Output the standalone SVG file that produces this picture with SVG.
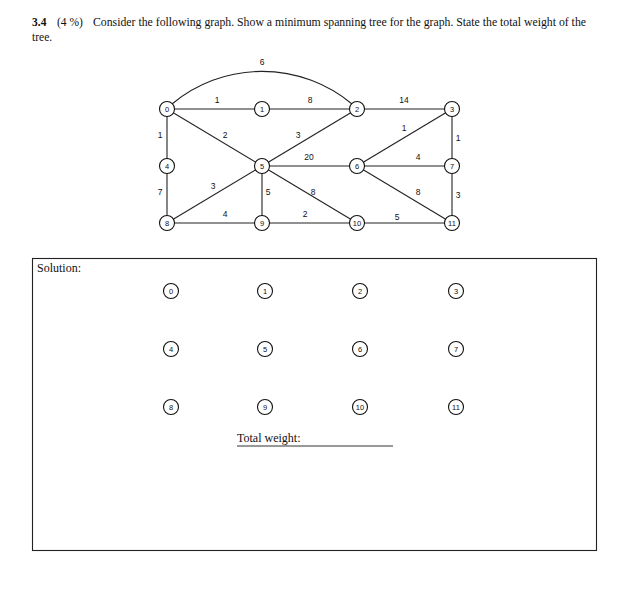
<svg xmlns="http://www.w3.org/2000/svg" width="629" height="591" viewBox="0 0 629 591">
<style>
.hdr{font-family:"Liberation Serif",serif;font-size:11.5px;fill:#111}
.big{font-size:12px}
.nd circle{fill:#fff;stroke:#111;stroke-width:1.1}
.nd text{font-family:"Liberation Sans",Arial,sans-serif;font-size:7.5px;fill:#111;text-anchor:middle}
.edges line,.edges path{stroke:#222;stroke-width:1.1;fill:none}
.wl{font-family:"Liberation Sans",Arial,sans-serif;font-size:8.5px;fill:#111;text-anchor:middle}
</style>
<rect width="629" height="591" fill="#fff"/>
<text class="hdr" x="32" y="26"><tspan font-weight="bold">3.4</tspan></text>
<text class="hdr" x="57" y="26">(4 %)</text>
<text class="hdr" x="93" y="26" textLength="493" lengthAdjust="spacingAndGlyphs">Consider the following graph. Show a minimum spanning tree for the graph. State the total weight of the</text>
<text class="hdr" x="32" y="41">tree.</text>

<g class="edges" id="connectors">
<path d="M172,104 A140.5,140.5 0 0 1 352,104"/>
<line x1="167" y1="109" x2="262" y2="109"/>
<line x1="262" y1="109" x2="357" y2="109"/>
<line x1="357" y1="109" x2="452" y2="109"/>
<line x1="167" y1="109" x2="167" y2="166"/>
<line x1="167" y1="166" x2="167" y2="223"/>
<line x1="167" y1="109" x2="262" y2="166"/>
<line x1="357" y1="109" x2="262" y2="166"/>
<line x1="452" y1="109" x2="357" y2="166"/>
<line x1="452" y1="109" x2="452" y2="166"/>
<line x1="262" y1="166" x2="357" y2="166"/>
<line x1="357" y1="166" x2="452" y2="166"/>
<line x1="262" y1="166" x2="167" y2="223"/>
<line x1="262" y1="166" x2="262" y2="223"/>
<line x1="262" y1="166" x2="357" y2="223"/>
<line x1="357" y1="166" x2="452" y2="223"/>
<line x1="452" y1="166" x2="452" y2="223"/>
<line x1="167" y1="223" x2="262" y2="223"/>
<line x1="262" y1="223" x2="357" y2="223"/>
<line x1="357" y1="223" x2="452" y2="223"/>
</g>
<g id="weights">
<text class="wl" x="262" y="65">6</text>
<text class="wl" x="217" y="103">1</text>
<text class="wl" x="310" y="103">8</text>
<text class="wl" x="404" y="103">14</text>
<text class="wl" x="160" y="138">1</text>
<text class="wl" x="225" y="138">2</text>
<text class="wl" x="298" y="138">3</text>
<text class="wl" x="404" y="131">1</text>
<text class="wl" x="458" y="141">1</text>
<text class="wl" x="309" y="160">20</text>
<text class="wl" x="418" y="160">4</text>
<text class="wl" x="160" y="195">7</text>
<text class="wl" x="213" y="189">3</text>
<text class="wl" x="268" y="195">5</text>
<text class="wl" x="313" y="195">8</text>
<text class="wl" x="418" y="195">8</text>
<text class="wl" x="458" y="198">3</text>
<text class="wl" x="225" y="217">4</text>
<text class="wl" x="305" y="217">2</text>
<text class="wl" x="397" y="220">5</text>
</g>

<g class="nd" id="n0"><circle cx="167" cy="109" r="7.5"/><text x="167" y="111.7">0</text></g>
<g class="nd" id="n1"><circle cx="262" cy="109" r="7.5"/><text x="262" y="111.7">1</text></g>
<g class="nd" id="n2"><circle cx="357" cy="109" r="7.5"/><text x="357" y="111.7">2</text></g>
<g class="nd" id="n3"><circle cx="452" cy="109" r="7.5"/><text x="452" y="111.7">3</text></g>
<g class="nd" id="n4"><circle cx="167" cy="166" r="7.5"/><text x="167" y="168.7">4</text></g>
<g class="nd" id="n5"><circle cx="262" cy="166" r="7.5"/><text x="262" y="168.7">5</text></g>
<g class="nd" id="n6"><circle cx="357" cy="166" r="7.5"/><text x="357" y="168.7">6</text></g>
<g class="nd" id="n7"><circle cx="452" cy="166" r="7.5"/><text x="452" y="168.7">7</text></g>
<g class="nd" id="n8"><circle cx="167" cy="223" r="7.5"/><text x="167" y="225.7">8</text></g>
<g class="nd" id="n9"><circle cx="262" cy="223" r="7.5"/><text x="262" y="225.7">9</text></g>
<g class="nd" id="n10"><circle cx="357" cy="223" r="7.5"/><text x="357" y="225.7">10</text></g>
<g class="nd" id="n11"><circle cx="452" cy="223" r="7.5"/><text x="452" y="225.7">11</text></g>

<g id="solution">
<rect x="32.5" y="258.5" width="564" height="292" fill="none" stroke="#222" stroke-width="1.1"/>
<text class="hdr big" x="37" y="272">Solution:</text>
<text class="hdr big" x="237" y="442">Total weight:</text>
<line x1="237" y1="446" x2="393" y2="446" stroke="#333" stroke-width="1"/>
</g>
<g class="nd" id="s0"><circle cx="171" cy="291" r="7.5"/><text x="171" y="293.7">0</text></g>
<g class="nd" id="s1"><circle cx="265" cy="291" r="7.5"/><text x="265" y="293.7">1</text></g>
<g class="nd" id="s2"><circle cx="360" cy="291" r="7.5"/><text x="360" y="293.7">2</text></g>
<g class="nd" id="s3"><circle cx="456" cy="291" r="7.5"/><text x="456" y="293.7">3</text></g>
<g class="nd" id="s4"><circle cx="171" cy="349" r="7.5"/><text x="171" y="351.7">4</text></g>
<g class="nd" id="s5"><circle cx="265" cy="349" r="7.5"/><text x="265" y="351.7">5</text></g>
<g class="nd" id="s6"><circle cx="360" cy="349" r="7.5"/><text x="360" y="351.7">6</text></g>
<g class="nd" id="s7"><circle cx="456" cy="349" r="7.5"/><text x="456" y="351.7">7</text></g>
<g class="nd" id="s8"><circle cx="171" cy="407" r="7.5"/><text x="171" y="409.7">8</text></g>
<g class="nd" id="s9"><circle cx="265" cy="407" r="7.5"/><text x="265" y="409.7">9</text></g>
<g class="nd" id="s10"><circle cx="360" cy="407" r="7.5"/><text x="360" y="409.7">10</text></g>
<g class="nd" id="s11"><circle cx="456" cy="407" r="7.5"/><text x="456" y="409.7">11</text></g>
</svg>
